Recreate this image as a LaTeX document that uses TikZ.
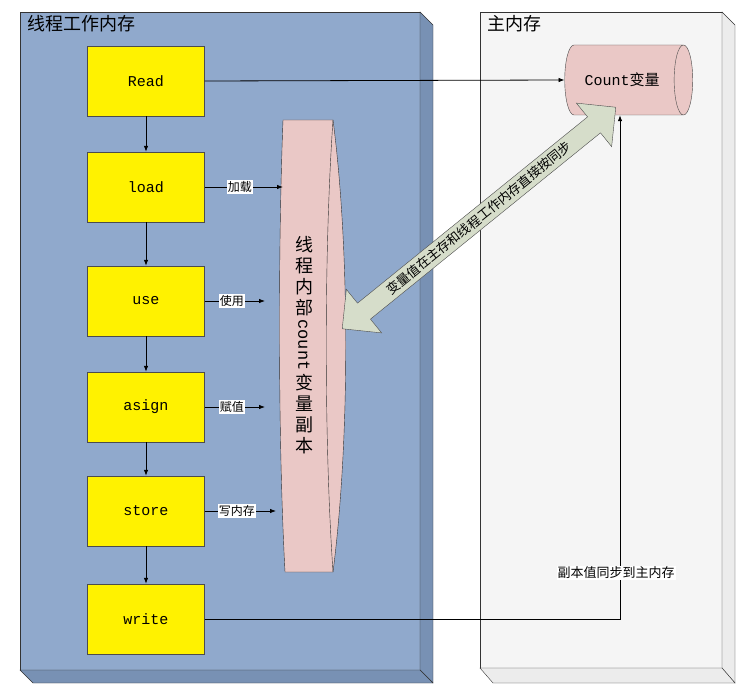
\documentclass[tikz,border=0pt]{standalone}
\usepackage{fontspec}
\newfontfamily\cjk{Noto Sans CJK SC}
\setmonofont{Liberation Mono}
\usetikzlibrary{shapes.geometric,shapes.arrows,arrows.meta}
\begin{document}
\begin{tikzpicture}[x=1pt,y=-1pt,
  op/.style={draw=black!70,fill=yellow,minimum width=117,minimum height=70,font=\ttfamily\fontsize{15}{16}\selectfont},
  lab/.style={fill=white,inner sep=1pt,font=\cjk\fontsize{12}{13}\selectfont},
  arr/.style={-{Latex[length=6pt]},thick},
  ln/.style={draw=black!80}]
\useasboundingbox (0,0) rectangle (747,698);
% left panel
\fill[fill={rgb,255:red,144;green,169;blue,204}] (20,12) rectangle (420,670);
\draw[ln] (20,12) rectangle (420,670);
\draw[ln,fill={rgb,255:red,120;green,145;blue,180}] (420,12) -- (433,25) -- (433,683) -- (420,670) -- cycle;
\draw[ln,fill={rgb,255:red,120;green,145;blue,180}] (20,670) -- (420,670) -- (433,683) -- (33,683) -- cycle;
\node[anchor=north west,font=\cjk\fontsize{18}{19}\selectfont] (t1) at (24,12) {线程工作内存};
% right panel
\draw[ln,fill=gray!8] (480,12) rectangle (722,668);
\draw[ln,fill=gray!15] (722,12) -- (735,25) -- (735,683) -- (722,668) -- cycle;
\draw[ln,fill=gray!15] (480,668) -- (722,668) -- (735,683) -- (493,683) -- cycle;
\node[anchor=north west,font=\cjk\fontsize{18}{19}\selectfont] (t2) at (484,12) {主内存};
% boxes
\node[op] (read) at (146,81) {Read};
\node[op] (load) at (146,187) {load};
\node[op] (use) at (146,301) {use};
\node[op] (asign) at (146,407) {asign};
\node[op] (store) at (146,511) {store};
\node[op] (write) at (146,619) {write};
\foreach \a/\b in {read/load,load/use,use/asign,asign/store,store/write}
  \draw[arr] (\a.south) -- (\b.north);
% bar
\draw[ln,fill={rgb,255:red,234;green,200;blue,198}] (283,120) -- (333,120)
  .. controls (350,250) and (350,440) .. (333,572) -- (285,572)
  .. controls (278,440) and (278,250) .. (283,120) -- cycle;
\draw[ln] (333,120) .. controls (324,250) and (324,440) .. (333,572);
\node[font=\cjk\fontsize{18}{21}\selectfont,align=center,inner sep=0] (bartxt) at (304,345)
  {线\\程\\内\\部\\[3pt]\rotatebox[origin=c]{-90}{\ttfamily\fontsize{17}{18}\selectfont count}\\[3pt]变\\量\\副\\本};
% side labels
\coordinate (e1) at (283,187); \coordinate (e2) at (265,301);
\coordinate (e3) at (265,407); \coordinate (e4) at (276,511);
\draw[arr] (load.east) -- node[lab,pos=0.45]{加载} (e1);
\draw[arr] (use.east) -- node[lab,pos=0.45]{使用} (e2);
\draw[arr] (asign.east) -- node[lab,pos=0.45]{赋值} (e3);
\draw[arr] (store.east) -- node[lab,pos=0.45]{写内存} (e4);
% cylinder
\node[cylinder,draw=black!70,fill={rgb,255:red,234;green,200;blue,198},minimum height=128,minimum width=70,aspect=0.9,
  font=\ttfamily\fontsize{15}{16}\selectfont,inner xsep=2pt] (cnt) at (622,80) {Count{\cjk 变量}};
\draw[arr] (read.east) -- (cnt.west);
\coordinate (wc) at (620,619);
\draw[arr] (write.east) -- (wc) -- (wc |- cnt.south);
\node[lab,font=\cjk\fontsize{13}{14}\selectfont] (l5) at (616,573) {副本值同步到主内存};
% double arrow
\node[double arrow,draw=black!70,fill={rgb,255:red,214;green,221;blue,202},rotate=39,minimum height=352,
  minimum width=56,double arrow head extend=16,inner xsep=1pt,inner ysep=3pt,
  font=\cjk\fontsize{13}{14}\selectfont] (sync) at (479,218) {变量值在主存和线程工作内存直接按同步};
\end{tikzpicture}
\end{document}
